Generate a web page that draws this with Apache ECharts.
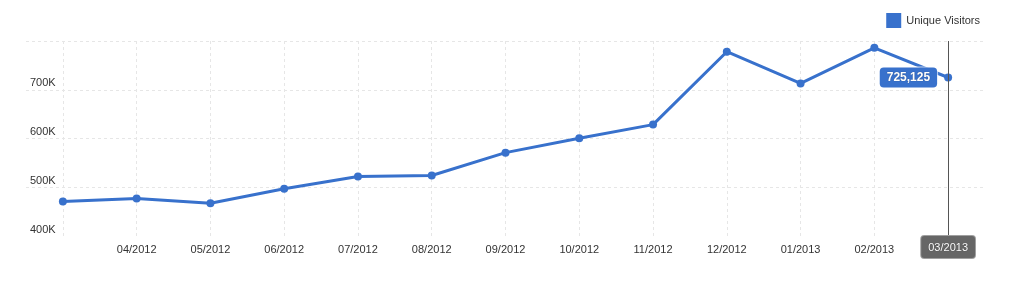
<!DOCTYPE html>
<html>
<head>
<meta charset="utf-8">
<script src="https://cdn.jsdelivr.net/npm/echarts@6/dist/echarts.min.js"></script>
<style>
html,body{margin:0;padding:0;background:#fff;}
#chart{width:1016px;height:285px;}
</style>
</head>
<body>
<div id="chart"></div>
<script>
const categories = ['03/2012','04/2012','05/2012','06/2012','07/2012','08/2012','09/2012','10/2012','11/2012','12/2012','01/2013','02/2013','03/2013'];
const visitors = [471000, 477000, 467000, 497000, 522000, 524000, 571000, 600500, 628500, 778000, 713000, 786000, 725125];
const yTicks = { min: 400000, max: 800000, interval: 100000 };
const seriesName = 'Unique Visitors';

const FONT = '"Liberation Sans", Arial, Helvetica, sans-serif';
const BLUE = '#3871cc';
const last = visitors.length - 1;

const chart = echarts.init(document.getElementById('chart'), null, { renderer: 'canvas' });
chart.setOption({
  animation: false,
  textStyle: { fontFamily: FONT },
  legend: {
    data: [seriesName],
    right: 31,
    top: 8,
    icon: 'rect',
    itemWidth: 15,
    itemHeight: 15,
    itemGap: 6,
    textStyle: { fontFamily: FONT, fontSize: 11, color: '#333' }
  },
  grid: { left: 26, right: 31, top: 41, bottom: 49, containLabel: false },
  xAxis: {
    type: 'category',
    data: categories,
    boundaryGap: true,
    axisLine: { show: false },
    axisTick: { show: false, alignWithLabel: true },
    axisLabel: {
      interval: 0,
      margin: 8,
      fontFamily: FONT,
      fontSize: 11,
      color: '#333',
      formatter: function (v, i) { return (i === 0 || i === last) ? '' : v; }
    },
    splitLine: {
      show: true,
      alignWithLabel: true,
      lineStyle: { color: '#e6e6e6', type: [3, 3], width: 1 }
    },
    axisPointer: {
      show: true,
      status: 'show',
      value: last,
      type: 'line',
      triggerTooltip: false,
      lineStyle: { color: '#555', width: 1, type: 'solid' },
      label: {
        show: true,
        margin: 0,
        backgroundColor: '#666',
        borderColor: '#a0a0a0',
        borderWidth: 1,
        color: '#fff',
        fontFamily: FONT,
        fontSize: 11,
        padding: [6, 7, 5, 7],
        textShadowColor: 'rgba(0,0,0,0.5)',
        textShadowBlur: 1
      },
      handle: { show: false }
    }
  },
  yAxis: {
    type: 'value',
    min: yTicks.min,
    max: yTicks.max,
    interval: yTicks.interval,
    axisLine: { show: false },
    axisTick: { show: false },
    axisLabel: {
      inside: true,
      showMaxLabel: false,
      margin: 4,
      align: 'left',
      verticalAlign: 'bottom',
      padding: [0, 0, 1, 0],
      fontFamily: FONT,
      fontSize: 11,
      color: '#333',
      formatter: function (v) { return (v / 1000) + 'K'; }
    },
    splitLine: {
      show: true,
      lineStyle: { color: ['rgba(0,0,0,0)', '#e6e6e6', '#e6e6e6', '#e6e6e6', '#e6e6e6'], type: [3, 3], width: 1 }
    }
  },
  series: [{
    name: seriesName,
    type: 'line',
    data: visitors.map(function (v, i) {
      if (i !== last) return v;
      return {
        value: v,
        label: {
          show: true,
          position: 'left',
          distance: 7,
          formatter: function (p) { return p.value.toLocaleString('en-US'); },
          backgroundColor: BLUE,
          borderColor: 'rgba(255,255,255,0.7)',
          borderWidth: 1,
          borderRadius: 4,
          padding: [4, 7, 4, 7],
          color: '#fff',
          fontFamily: FONT,
          fontSize: 12,
          fontWeight: 'bold',
          textShadowColor: 'rgba(0,0,0,0.45)',
          textShadowBlur: 1
        }
      };
    }),
    color: BLUE,
    symbol: 'circle',
    symbolSize: 8,
    showAllSymbol: true,
    lineStyle: { width: 3, color: BLUE },
    itemStyle: { color: BLUE },
    emphasis: { disabled: true },
    z: 3
  }]
});
</script>
</body>
</html>
